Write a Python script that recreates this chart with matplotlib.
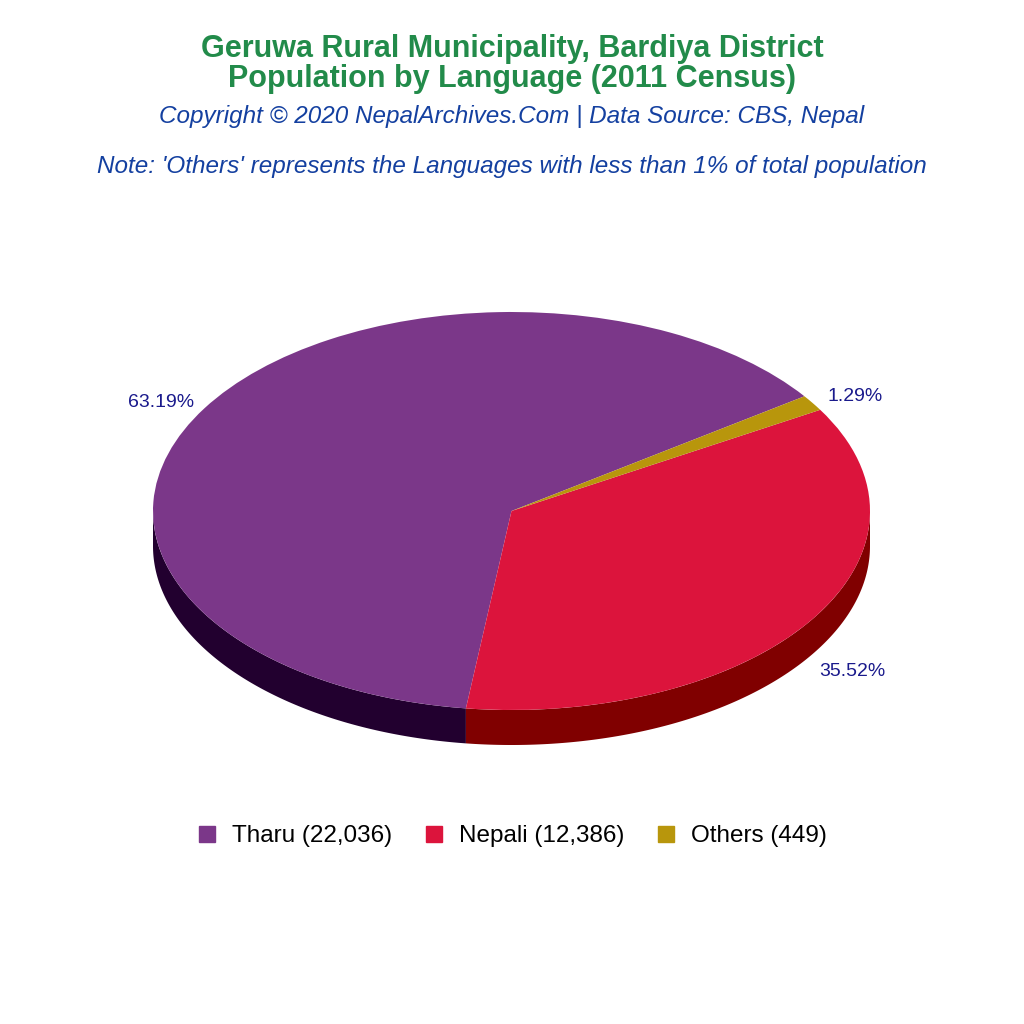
import numpy as np
import matplotlib.pyplot as plt
from matplotlib.lines import Line2D

plt.rcParams['font.family'] = ['Liberation Sans', 'DejaVu Sans']

languages = ["Tharu", "Nepali", "Others"]
population = [22036, 12386, 449]
percents = ["63.19%", "35.52%", "1.29%"]
colors = ["#7b3789", "#dc143c", "#b8960c"]
side_colors = ["#22002f", "#800000", "#6b5600"]

W, H = 1024, 1024
rx, ry = 358.5, 199.0   # ellipse radii in px
cx, cy = 511.5, 511.0   # center in px (from top)
depth = 35.0 / ry

fig = plt.figure(figsize=(10.24, 10.24), dpi=100)
ax = fig.add_axes([0, 0, 1, 1])

wedges, _ = ax.pie(population, colors=colors, startangle=35.2, counterclock=True,
                   radius=1, wedgeprops=dict(linewidth=0))
for w in wedges:
    w.set_zorder(3)

# side walls for the front half
for w, sc in zip(wedges, side_colors):
    t1, t2 = w.theta1 % 360, w.theta2 % 360
    if t2 <= t1:
        t2 += 360
    for lo, hi in [(180, 360), (540, 720)]:
        a, b = max(t1, lo), min(t2, hi)
        if b > a:
            t = np.radians(np.linspace(a, b, 200))
            xs = np.concatenate([np.cos(t), np.cos(t[::-1])])
            ys = np.concatenate([np.sin(t), np.sin(t[::-1]) - depth])
            ax.fill(xs, ys, color=sc, lw=0, zorder=2)

# percent labels
for w, p in zip(wedges, percents):
    mid = np.radians((w.theta1 + w.theta2) / 2)
    x, y = 1.14 * np.cos(mid), 1.15 * np.sin(mid)
    if y < 0:
        y -= depth
    else:
        y -= 0.05
    ax.text(x, y, p, ha='center', va='center', fontsize=14, color='#1a1a8c', zorder=5)

ax.set_aspect('auto')
ax.set_xlim(-cx / rx, (W - cx) / rx)
ax.set_ylim(-(H - cy) / ry, cy / ry)
ax.axis('off')

fig.text(0.5, 1 - 49 / H, "Geruwa Rural Municipality, Bardiya District", ha='center', va='center',
         fontsize=22, fontweight='bold', color='#228b4a')
fig.text(0.5, 1 - 79 / H, "Population by Language (2011 Census)", ha='center', va='center',
         fontsize=22, fontweight='bold', color='#228b4a')
fig.text(0.5, 1 - 117 / H, "Copyright © 2020 NepalArchives.Com | Data Source: CBS, Nepal", ha='center',
         va='center', fontsize=17.5, style='italic', color='#1440a0')
fig.text(0.5, 1 - 166 / H, "Note: 'Others' represents the Languages with less than 1% of total population",
         ha='center', va='center', fontsize=17.5, style='italic', color='#1440a0')

handles = [Line2D([], [], marker='s', linestyle='none', markersize=11.5, markerfacecolor=c,
                  markeredgecolor=c) for c in colors]
labels = [f"{l} ({v:,})" for l, v in zip(languages, population)]
fig.legend(handles, labels, loc='center', bbox_to_anchor=(0.5, 1 - 836 / H), ncol=3, frameon=False,
           fontsize=17.5, handlelength=0.8, handletextpad=0.65, columnspacing=1.3)

fig.savefig("out.png", dpi=100)
